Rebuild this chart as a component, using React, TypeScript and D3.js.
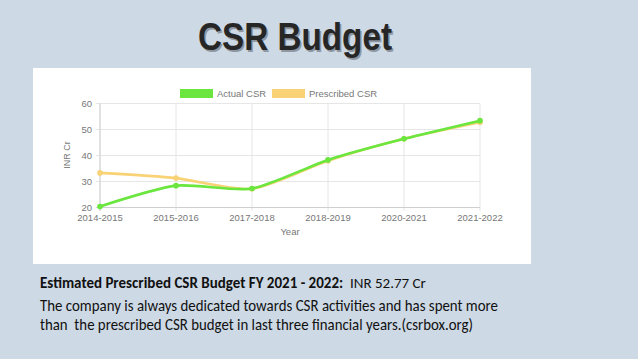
import React, { useRef, useEffect } from 'react';
import * as d3 from 'd3';

const years = ['2014-2015', '2015-2016', '2017-2018', '2018-2019', '2020-2021', '2021-2022'];
const actualCSR = [20.4, 28.4, 27.3, 38.3, 46.4, 53.4];
const prescribedCSR = [33.3, 31.3, 27.2, 38.0, 46.4, 52.77];
const yTicks = [20, 30, 40, 50, 60];

const GREEN = '#6ae63f';
const YELLOW = '#f8d274';

const App = () => {
  const svgRef = useRef(null);

  useEffect(() => {
    d3.select(svgRef.current).selectAll('*').remove();
    const svg = d3.select(svgRef.current);

    // slide background + white chart panel
    svg.append('rect').attr('width', 638).attr('height', 359).attr('fill', '#cdd9e5');
    svg.append('rect').attr('x', 33).attr('y', 68).attr('width', 498).attr('height', 196).attr('fill', '#ffffff');

    // title with soft shadow
    const title = (dx, dy, fill) =>
      svg
        .append('text')
        .attr('x', 198 + dx)
        .attr('y', 50 + dy)
        .attr('textLength', 194)
        .attr('lengthAdjust', 'spacingAndGlyphs')
        .attr('font-family', 'Liberation Sans, Arial, sans-serif')
        .attr('font-weight', 'bold')
        .attr('font-size', 39)
        .attr('fill', fill)
        .text('CSR Budget');
    title(1.5, 1.5, '#8f98a2');
    title(0, 0, '#262626');

    const x = d3.scalePoint().domain(years).range([100, 480]);
    const y = d3.scaleLinear().domain([20, 60]).range([207.5, 103.5]);

    const grid = svg.append('g').attr('stroke', '#e6e6e6').attr('stroke-width', 1);
    grid
      .selectAll('.h')
      .data(yTicks)
      .join('line')
      .attr('x1', 96)
      .attr('x2', 480)
      .attr('y1', (d) => y(d))
      .attr('y2', (d) => y(d));
    grid
      .selectAll('.v')
      .data(years)
      .join('line')
      .attr('x1', (d) => x(d))
      .attr('x2', (d) => x(d))
      .attr('y1', 103.5)
      .attr('y2', 211);
    svg.append('line').attr('x1', 100).attr('x2', 100).attr('y1', 103.5).attr('y2', 211).attr('stroke', '#cfcfcf');
    svg.append('line').attr('x1', 96).attr('x2', 480).attr('y1', 207.5).attr('y2', 207.5).attr('stroke', '#cfcfcf');

    const tickFont = 'Liberation Sans, Arial, sans-serif';
    svg
      .append('g')
      .selectAll('text')
      .data(yTicks)
      .join('text')
      .attr('x', 92)
      .attr('y', (d) => y(d) + 3)
      .attr('text-anchor', 'end')
      .attr('font-family', tickFont)
      .attr('font-size', 9.5)
      .attr('fill', '#777')
      .text((d) => d);
    svg
      .append('g')
      .selectAll('text')
      .data(years)
      .join('text')
      .attr('x', (d) => x(d))
      .attr('y', 221)
      .attr('text-anchor', 'middle')
      .attr('font-family', tickFont)
      .attr('font-size', 9.5)
      .attr('fill', '#777')
      .text((d) => d);

    svg
      .append('text')
      .attr('transform', 'translate(70,155) rotate(-90)')
      .attr('text-anchor', 'middle')
      .attr('font-family', tickFont)
      .attr('font-size', 9)
      .attr('fill', '#777')
      .text('INR Cr');
    svg
      .append('text')
      .attr('x', 290)
      .attr('y', 235)
      .attr('text-anchor', 'middle')
      .attr('font-family', tickFont)
      .attr('font-size', 9.5)
      .attr('fill', '#777')
      .text('Year');

    const line = d3
      .line()
      .x((d, i) => x(years[i]))
      .y((d) => y(d))
      .curve(d3.curveCardinal.tension(0.3));

    const series = [
      { values: prescribedCSR, color: YELLOW },
      { values: actualCSR, color: GREEN },
    ];
    series.forEach((s) => {
      svg
        .append('path')
        .datum(s.values)
        .attr('d', line)
        .attr('fill', 'none')
        .attr('stroke', s.color)
        .attr('stroke-width', 2.6);
      svg
        .append('g')
        .selectAll('circle')
        .data(s.values)
        .join('circle')
        .attr('cx', (d, i) => x(years[i]))
        .attr('cy', (d) => y(d))
        .attr('r', 2.8)
        .attr('fill', s.color);
    });

    // legend
    const legend = [
      { label: 'Actual CSR', color: GREEN, x: 180 },
      { label: 'Prescribed CSR', color: YELLOW, x: 272 },
    ];
    legend.forEach((l) => {
      svg.append('rect').attr('x', l.x).attr('y', 89).attr('width', 33).attr('height', 9).attr('fill', l.color);
      svg
        .append('text')
        .attr('x', l.x + 37)
        .attr('y', 96.5)
        .attr('font-family', tickFont)
        .attr('font-size', 9.5)
        .attr('fill', '#777')
        .text(l.label);
    });

    // caption text
    const bodyFont = 'Carlito, Lato, Open Sans, sans-serif';
    const t1 = svg
      .append('text')
      .attr('x', 40)
      .attr('y', 288)
      .attr('font-family', bodyFont)
      .attr('font-size', 15)
      .attr('fill', '#111');
    t1.append('tspan').attr('font-weight', 'bold').text('Estimated Prescribed CSR Budget FY 2021 - 2022:');
    t1.append('tspan').text('\u00a0 INR 52.77 Cr');

    const lines = [
      { text: 'The company is always dedicated towards CSR activities and has spent more', y: 311, len: 458 },
      { text: 'than\u00a0 the prescribed CSR budget in last three financial years.(csrbox.org)', y: 330, len: 433 },
    ];
    lines.forEach((l) => {
      svg
        .append('text')
        .attr('x', 40)
        .attr('y', l.y)
        .attr('textLength', l.len)
        .attr('lengthAdjust', 'spacingAndGlyphs')
        .attr('font-family', bodyFont)
        .attr('font-size', 15.5)
        .attr('fill', '#111')
        .text(l.text);
    });
  }, []);

  return (
    <svg
      ref={svgRef}
      width={638}
      height={359}
      style={{ position: 'absolute', left: 0, top: 0 }}
    ></svg>
  );
};

export default App;
